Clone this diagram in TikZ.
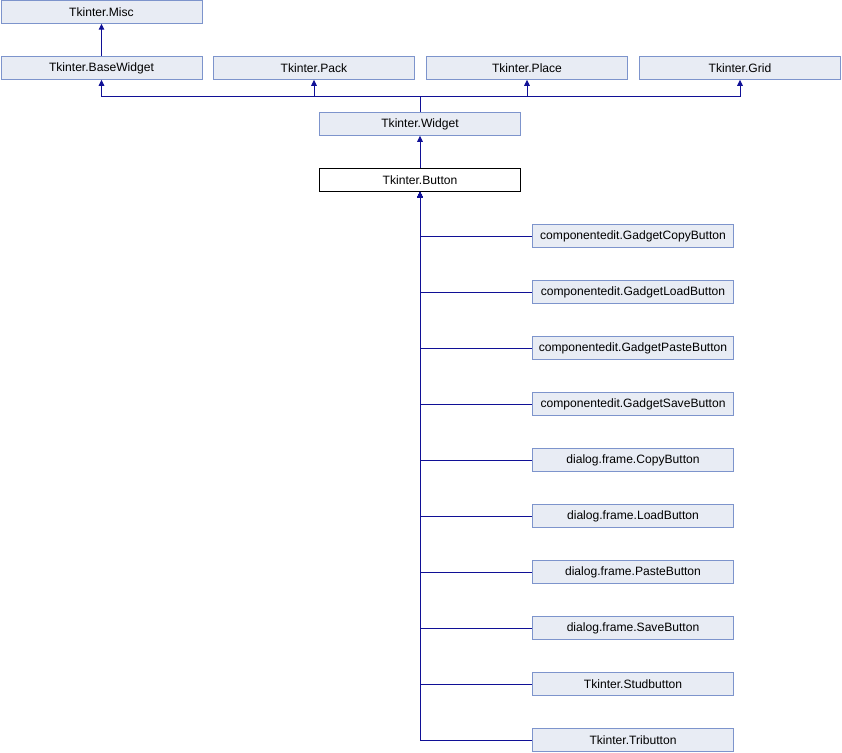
\documentclass[tikz,border=0pt]{standalone}
\usepackage{fontspec}
\setmainfont{Liberation Sans}
\usetikzlibrary{arrows.meta,positioning}
\definecolor{boxfill}{RGB}{232,236,244}
\definecolor{boxline}{RGB}{125,148,204}
\definecolor{edgeblue}{RGB}{16,16,150}
\tikzset{
    cls/.style =    {rectangle,
                    fill=boxfill,
                    draw=boxline,
                    text=black,
                    line width=1pt,
                    inner sep=0pt,
                    minimum width=201pt,
                    minimum height=22.5pt,
                    font=\fontsize{12.1}{14}\selectfont},
    this/.style =   {cls,
                    fill=white,
                    draw=black},
    inh/.style =    {draw=edgeblue,
                    line width=1pt,
                    {Triangle[length=6pt,width=5.5pt]}-},
    x=1pt, y=-1pt}

\begin{document}
\begin{tikzpicture}
    \useasboundingbox (0,0) rectangle (842,752);
                    \node[cls]   (misc)  at (101.5,12)    {Tkinter.Misc};
                    \node[cls]   (base)  at (101.5,68)    {Tkinter.BaseWidget};
                    \node[cls]   (pack)  at (314,68)      {Tkinter.Pack};
                    \node[cls]   (place) at (527,68)      {Tkinter.Place};
                    \node[cls]   (grid)  at (740,68)      {Tkinter.Grid};
                    \node[cls]   (wid)   at (420,124)     {Tkinter.Widget};
                    \node[this]  (btn)   at (420,180)     {Tkinter.Button};
                    \coordinate  (bus)   at (420,96);
                    % parents of Widget
                    \draw[inh] (misc) -- (base);
                    \foreach \p in {base,pack,place,grid}
                        \draw[inh] (\p.south) |- (bus) -- (wid.north);
                    \draw[inh] (wid) -- (btn);
                    % subclasses of Button
                    \foreach \name [count=\i from 0] in {componentedit.GadgetCopyButton,
                            componentedit.GadgetLoadButton,
                            componentedit.GadgetPasteButton,
                            componentedit.GadgetSaveButton,
                            dialog.frame.CopyButton,
                            dialog.frame.LoadButton,
                            dialog.frame.PasteButton,
                            dialog.frame.SaveButton,
                            Tkinter.Studbutton,
                            Tkinter.Tributton}
                    {
                        \node[cls] (sub\i) at (633,236+56*\i) {\name};
                        \draw[inh] (btn.south) |- (sub\i.west);
                    }
\end{tikzpicture}
\end{document}
